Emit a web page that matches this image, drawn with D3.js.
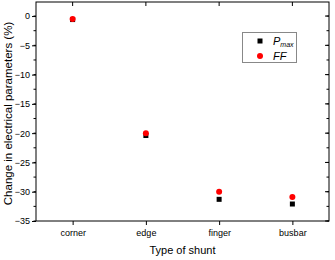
<!DOCTYPE html>
<html><head><meta charset="utf-8">
<script src="https://cdn.jsdelivr.net/npm/d3@7"></script>
<style>body{margin:0;background:#fff}svg{display:block}text{font-family:"Liberation Sans",Arial,sans-serif}</style>
</head><body>
<svg id="c" width="335" height="260"></svg>
<script>
const categories = ["corner","edge","finger","busbar"];
const pmax = [-0.6, -20.4, -31.3, -32.1];
const ff = [-0.5, -20.0, -30.0, -30.9];
const yTicks = [0,-5,-10,-15,-20,-25,-30,-35];

const svg = d3.select("#c");
const L=36, R=329, T=2, B=221;
const x = d3.scalePoint().domain(categories).range([L,R]).padding(0.5);
const y = d3.scaleLinear().domain([-35,2.4]).range([B,T]);

const minor = d3.range(-35,2.5,2.5);
// left axis
const gl = svg.append("g").attr("transform",`translate(${L},0)`);
gl.call(d3.axisLeft(y).tickValues(yTicks).tickSize(4).tickFormat(d3.format("d")))
  .call(g=>g.select(".domain").remove())
  .call(g=>g.selectAll("text").attr("font-size",9).attr("fill","#000").attr("x",-6));
gl.selectAll(".mn").data(minor).join("line").attr("x1",-2.5).attr("x2",0).attr("y1",d=>y(d)).attr("y2",d=>y(d)).attr("stroke","#000");
// right axis ticks inward
const gr = svg.append("g").attr("transform",`translate(${R},0)`);
gr.selectAll("line.mj").data(yTicks).join("line").attr("x1",-4).attr("x2",0).attr("y1",d=>y(d)).attr("y2",d=>y(d)).attr("stroke","#000");
gr.selectAll("line.mn").data(minor).join("line").attr("x1",-2.5).attr("x2",0).attr("y1",d=>y(d)).attr("y2",d=>y(d)).attr("stroke","#000");
// bottom axis
const gb = svg.append("g").attr("transform",`translate(0,${B})`);
gb.call(d3.axisBottom(x).tickSize(4).tickPadding(5))
  .call(g=>g.select(".domain").remove())
  .call(g=>g.selectAll("text").attr("font-size",9).attr("fill","#000"));
// top ticks inward
svg.append("g").selectAll("line").data(categories).join("line")
  .attr("x1",d=>x(d)).attr("x2",d=>x(d)).attr("y1",T).attr("y2",T+4).attr("stroke","#000");
// frame
svg.append("rect").attr("x",L).attr("y",T).attr("width",R-L).attr("height",B-T)
  .attr("fill","none").attr("stroke","#000").attr("stroke-width",1);

// points
svg.append("g").selectAll("rect").data(categories).join("rect")
  .attr("x",(d,i)=>x(d)-2.5).attr("y",(d,i)=>y(pmax[i])-2.5).attr("width",5).attr("height",5).attr("fill","#000");
svg.append("g").selectAll("circle").data(categories).join("circle")
  .attr("cx",d=>x(d)).attr("cy",(d,i)=>y(ff[i])).attr("r",3).attr("fill","#f00");

// legend
const lg = svg.append("g");
lg.append("rect").attr("x",242.5).attr("y",32.5).attr("width",54).attr("height",30).attr("fill","#fff").attr("stroke","#888");
lg.append("rect").attr("x",257.5).attr("y",38.5).attr("width",5).attr("height",5).attr("fill","#000");
lg.append("circle").attr("cx",260).attr("cy",56).attr("r",3).attr("fill","#f00");
const t1 = lg.append("text").attr("x",273).attr("y",45).attr("font-size",11).attr("font-style","italic");
t1.append("tspan").text("P");
t1.append("tspan").attr("font-size",7).attr("dy",2).text("max");
lg.append("text").attr("x",273).attr("y",60).attr("font-size",11).attr("font-style","italic").text("FF");

// axis titles
svg.append("text").attr("transform",`translate(12,${(T+B)/2+2}) rotate(-90)`).attr("text-anchor","middle")
  .attr("font-size",11.5).text("Change in electrical parameters (%)");
svg.append("text").attr("x",(L+R)/2).attr("y",254).attr("text-anchor","middle").attr("font-size",11).text("Type of shunt");
</script>
</body></html>
